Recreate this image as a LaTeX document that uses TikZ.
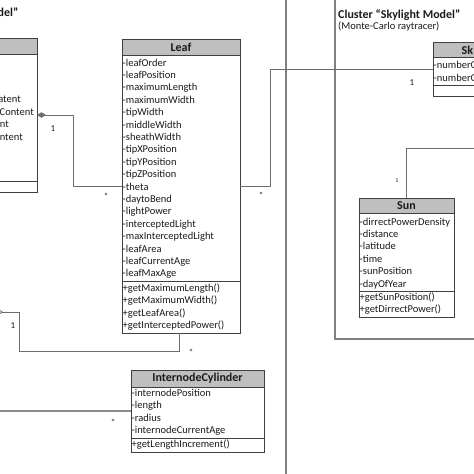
\documentclass[tikz,border=0pt]{standalone}
\usepackage{fontspec}
\setmainfont{Carlito}
\usetikzlibrary{arrows.meta,calc}
\definecolor{boxc}{HTML}{404040}
\definecolor{headc}{HTML}{BFBFBF}
\definecolor{connc}{HTML}{6E6E6E}
\definecolor{clusc}{HTML}{808080}
\definecolor{txtc}{HTML}{1A1A1A}
\tikzset{
  clsbox/.style={draw=boxc, line width=1pt, anchor=north west, inner sep=0pt, outer sep=0pt},
  sepline/.style={draw=boxc, line width=1pt},
  row/.style={inner sep=0pt, anchor=base west, text=txtc, font=\fontsize{10.5}{12}\selectfont},
  ctitle/.style={inner sep=0pt, text=txtc, font=\bfseries\fontsize{12}{14}\selectfont},
  subtitle/.style={inner sep=0pt, text=txtc, font=\fontsize{10.5}{12}\selectfont},
  conn/.style={draw=connc, line width=0.8pt},
  thickconn/.style={draw=clusc!90!white, line width=1.3pt},
  cluster/.style={draw=clusc, line width=1.3pt},
  mult/.style={inner sep=0pt, text=txtc, font=\fontsize{9}{10}\selectfont},
  smallmult/.style={inner sep=0pt, text=txtc, font=\fontsize{6}{7}\selectfont},
}
\newcommand\umlrows[5]{\foreach \t [count=\i from 0] in {#5} {\node[row] (#1-\i) at (#2,#3+\i*#4) {\t};}}
\newcommand\umlbox[6]{%
  \fill[headc] (#2,#3) rectangle ++(#4,#6);
  \node[clsbox, minimum width=#4, minimum height=#5] (#1) at (#2,#3) {};
  \draw[sepline] ($(#1.north west)+(0,#6)$) -- ($(#1.north east)+(0,#6)$);
}
\begin{document}
\begin{tikzpicture}[x=1pt,y=-1pt]
\useasboundingbox (0,0) rectangle (474,474);
\clip (0,0) rectangle (474,474);

% cluster frames
\draw[cluster] (286,-5) -- (286,480);
\node[draw=clusc, line width=1.3pt, anchor=north west, inner sep=0pt, outer sep=0pt,
      minimum width=160, minimum height=349] (skycl) at (335,-10) {};

% cluster titles
\node[ctitle, anchor=base east] (plcl) at (18.5,16) {del”};
\node[ctitle, anchor=base west] (skyt) at (338,18) {Cluster “Skylight Model”};
\node[subtitle, anchor=base west] (skys) at (338,29.5) {(Monte-Carlo raytracer)};

% left plant class (cropped)
\umlbox{plant}{-80}{38}{117}{154}{16.5}
\draw[sepline] ($(plant.north west)+(0,143)$) -- ($(plant.north east)+(0,143)$);
\node[row, anchor=base east] (pa) at (21,102) {atent};
\node[row, anchor=base east] (pb) at (34,115) {Content};
\node[row, anchor=base east] (pc) at (9,127) {nt};
\node[row, anchor=base east] (pd) at (23,140) {ntent};

% Leaf
\umlbox{leaf}{122}{39}{118}{294}{16}
\draw[sepline] ($(leaf.north west)+(0,242)$) -- ($(leaf.north east)+(0,242)$);
\node[ctitle] (leaf-t) at ($(leaf.north)+(0,8)$) {Leaf};
\umlrows{leafa}{122.5}{66}{12.4}{-leafOrder,-leafPosition,-maximumLength,-maximumWidth,-tipWidth,-middleWidth,-sheathWidth,-tipXPosition,-tipYPosition,-tipZPosition,-theta,-daytoBend,-lightPower,-interceptedLight,-maxInterceptedLight,-leafArea,-leafCurrentAge,-leafMaxAge}
\umlrows{leafm}{122.5}{291}{12.6}{+getMaximumLength(),+getMaximumWidth(),+getLeafArea(),+getInterceptedPower()}

% InternodeCylinder
\umlbox{internode}{131}{370}{133}{82}{17}
\draw[sepline] ($(internode.north west)+(0,68)$) -- ($(internode.north east)+(0,68)$);
\node[ctitle] (int-t) at ($(internode.north)+(0,8.5)$) {InternodeCylinder};
\umlrows{inta}{131.5}{396}{12.6}{-internodePosition,-length,-radius,-internodeCurrentAge}
\umlrows{intm}{131.5}{447}{12.6}{+getLengthIncrement()}

% Sun
\umlbox{sun}{359}{198}{95}{119}{15}
\draw[sepline] ($(sun.north west)+(0,93)$) -- ($(sun.north east)+(0,93)$);
\node[ctitle] (sun-t) at ($(sun.north)+(0,7.5)$) {Sun};
\umlrows{suna}{359.5}{225}{12.4}{-dirrectPowerDensity,-distance,-latitude,-time,-sunPosition,-dayOfYear}
\umlrows{sunm}{359.5}{300}{12.2}{+getSunPosition(),+getDirrectPower()}

% Sky (cropped)
\umlbox{sky}{433}{42}{100}{54}{15}
\draw[sepline] ($(sky.north west)+(0,43)$) -- ($(sky.north east)+(0,43)$);
\node[ctitle, anchor=base west] (sky-t) at (461.5,54) {Sk};
\umlrows{skya}{433.5}{68}{13}{-numberO,-numberO}

% off-picture ends
\coordinate (aggr) at (-6,312);
\coordinate (plantx) at (-10,411);
\coordinate (skyoff) at (490,148);

% connectors
\draw[conn, {Diamond[length=9pt,width=5.5pt]}-] ($(plant.north east)+(0,77)$) -- ++(36,0) |- (leaf.west);
\draw[conn, {Diamond[open,length=9pt,width=6pt]}-] (aggr) -| ++(25,39) -| ([xshift=-2pt]leaf.south);
\draw[conn] (leaf.east) -- ++(30,0) |- (sky.west);
\draw[thickconn] (plantx) -- (internode.west);
\draw[conn] (sun.north) |- (skyoff);

% multiplicities
\node[mult] (m1) at (53,129) {1};
\node[mult] (m2) at (106,196) {*};
\node[mult] (m3) at (13,326) {1};
\node[mult] (m4) at (191,352) {*};
\node[mult] (m5) at (261,195) {*};
\node[mult] (m6) at (412,83) {1};
\node[mult] (m7) at (113,422) {*};
\node[smallmult] (m8) at (397,181) {1};
\end{tikzpicture}
\end{document}
